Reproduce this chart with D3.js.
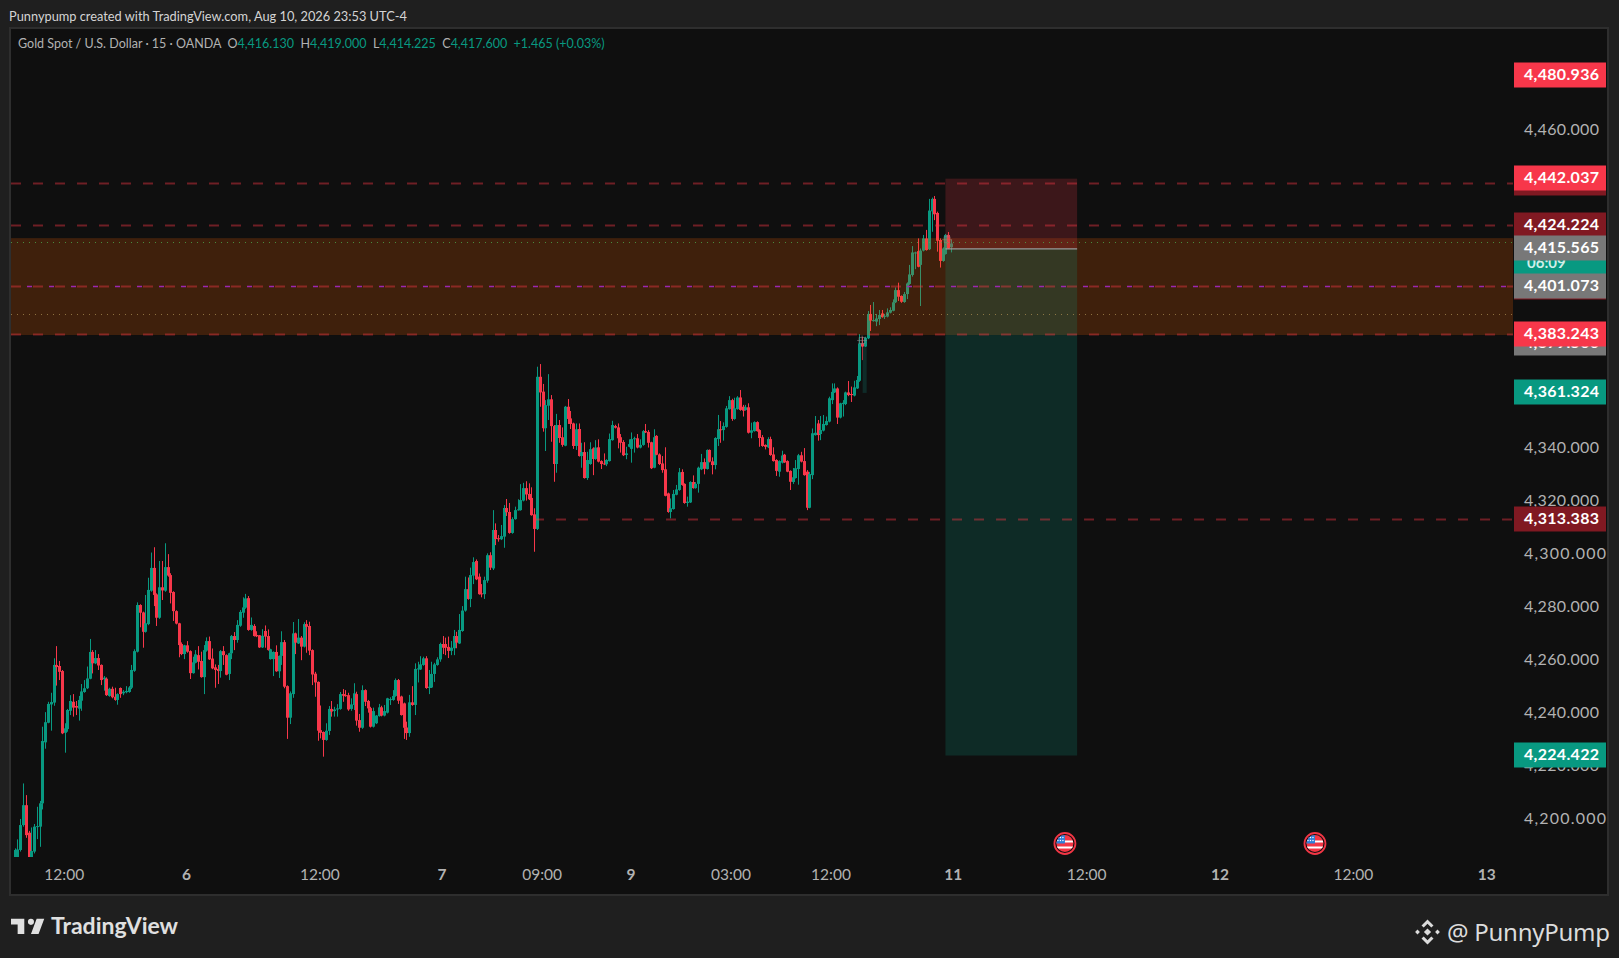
<!DOCTYPE html>
<html>
<head>
<meta charset="utf-8">
<title>XAUUSD 15</title>
<script src="https://cdn.jsdelivr.net/npm/d3@7/dist/d3.min.js"></script>
<style>
html,body{margin:0;padding:0;background:#1f1f1f;overflow:hidden}
svg{display:block}
text{font-family:Lato,"Noto Sans",sans-serif}
</style>
</head>
<body>
<svg id="chart" width="1619" height="958"></svg>
<script>
const opens = [
4185.2,4184.4,4188.8,4198.2,4205.7,4195.3,4184.4,4188.2,4197.5,4197.6,
4206.4,4229.4,4236.8,4243.7,4244.4,4258.6,4258.2,4256.3,4233.0,4234.4,
4241.3,4244.7,4243.1,4242.1,4245.1,4248.4,4249.8,4253.4,4263.5,4259.2,
4261.2,4258.6,4253.2,4253.4,4246.9,4249.6,4246.6,4245.4,4249.9,4247.9,
4248.3,4248.4,4250.0,4256.4,4263.6,4281.2,4278.4,4271.1,4274.0,4286.6,
4295.2,4285.2,4276.4,4287.9,4286.6,4295.5,4292.5,4286.1,4278.9,4274.3,
4266.5,4262.7,4266.0,4263.8,4255.5,4259.4,4262.3,4260.1,4254.0,4264.0,
4267.6,4261.0,4257.7,4257.1,4256.3,4263.8,4262.3,4255.2,4263.0,4269.5,
4268.0,4273.4,4278.3,4280.2,4283.8,4271.8,4273.3,4269.9,4269.8,4265.2,
4271.4,4269.5,4260.8,4260.8,4263.5,4256.2,4262.0,4267.2,4250.6,4238.7,
4247.6,4270.5,4266.7,4268.9,4265.5,4274.0,4273.3,4264.2,4255.3,4252.2,
4234.0,4233.3,4230.3,4233.7,4242.0,4241.2,4241.8,4242.0,4247.6,4247.2,
4247.2,4242.0,4243.5,4247.6,4237.8,4234.9,4249.1,4245.0,4242.3,4235.3,
4236.6,4239.3,4242.6,4239.5,4240.6,4245.4,4245.4,4246.9,4252.9,4246.7,
4244.1,4235.0,4232.9,4244.5,4243.5,4257.1,4256.9,4258.6,4261.1,4249.9,
4250.1,4255.2,4258.6,4260.7,4266.5,4266.5,4265.4,4263.9,4264.9,4269.5,
4266.7,4271.4,4279.1,4287.2,4283.5,4292.3,4297.8,4291.9,4285.6,4285.3,
4290.4,4300.0,4295.0,4309.5,4306.4,4306.0,4307.0,4317.8,4316.3,4308.4,
4313.6,4317.0,4317.0,4320.6,4325.3,4323.1,4321.6,4315.4,
4309.9,4367.3,4361.7,4347.9,4356.4,4358.8,4348.7,4334.4,4349.1,4344.5,
4341.3,4356.0,4351.6,4349.7,4341.2,4347.6,4337.4,4338.9,4329.1,4334.4,
4340.3,4336.3,4340.7,4335.5,4334.6,4334.3,4335.5,4343.4,4348.7,4348.2,
4344.5,4342.7,4337.8,4340.9,4340.1,4343.8,4344.1,4340.6,4341.6,4346.8,
4346.5,4342.6,4333.0,4345.0,4338.0,4334.6,4332.4,4323.3,4316.3,4317.4,
4322.8,4324.6,4331.4,4326.9,4319.7,4319.9,4327.6,4325.3,4326.9,4332.4,
4335.1,4332.5,4339.7,4335.4,4334.0,4343.8,4347.5,4347.2,4348.4,4355.1,
4358.5,4351.4,4355.1,4359.5,4356.0,4354.8,4355.8,4346.2,4346.8,4350.2,
4347.2,4344.5,4341.6,4340.7,4343.8,4338.0,4335.9,4331.5,4334.9,4337.9,
4335.5,4331.8,4327.6,4329.1,4332.5,4337.7,4335.5,
4331.5,4317.9,4330.2,4345.3,4349.7,4345.7,4347.0,4349.1,4350.4,4358.5,
4361.4,4362.9,4351.9,4357.0,4357.0,4361.4,4360.8,4360.2,4362.9,4365.8,
4379.9,4378.7,4381.8,4391.0,4388.3,4388.1,4389.1,4391.2,4390.0,4390.0,
4391.5,4392.2,4395.4,4400.0,4397.8,4395.5,4398.5,4402.3,4405.7,4413.9,
4414.7,4409.5,4414.9,4419.5,4415.4,4429.7,4434.4,4429.1,4418.9,4411.0,
4413.6,4420.8,4416.13
];
const highs = [
4189.4,4192.8,4200.5,4213.9,4209.5,4196.0,4197.3,4198.6,4205.1,4207.3,
4235.3,4240.8,4244.7,4248.1,4261.1,4265.7,4260.1,4256.7,4236.6,4242.0,
4247.2,4247.6,4245.0,4246.9,4251.4,4252.9,4258.0,4268.4,4264.2,4264.2,
4262.7,4258.8,4254.4,4253.9,4250.0,4250.4,4250.0,4247.9,4250.1,4249.1,
4250.6,4250.6,4258.6,4264.5,4282.2,4281.5,4278.7,4285.0,4291.5,4301.0,
4303.0,4285.6,4297.8,4297.8,4304.5,4300.4,4293.2,4286.4,4279.2,4274.5,
4267.1,4266.2,4267.6,4264.1,4261.7,4264.2,4265.7,4263.6,4266.1,4269.0,
4269.3,4264.8,4258.8,4258.6,4264.2,4265.7,4262.6,4263.2,4269.9,4271.0,
4275.5,4279.3,4284.1,4285.4,4284.6,4276.5,4274.0,4271.3,4269.9,4272.1,
4273.5,4272.0,4264.7,4263.7,4266.0,4262.2,4271.3,4268.0,4250.9,4248.6,
4274.8,4270.8,4275.9,4269.5,4274.7,4275.5,4274.9,4264.5,4256.0,4252.4,
4243.3,4233.5,4236.6,4243.1,4245.0,4242.8,4243.8,4248.4,4249.5,4249.1,
4248.1,4246.0,4251.7,4248.5,4240.1,4250.9,4249.4,4245.4,4242.8,4242.5,
4239.7,4243.9,4243.2,4243.5,4246.2,4246.4,4249.1,4253.5,4253.3,4247.0,
4244.4,4237.2,4247.3,4250.6,4259.2,4259.8,4261.9,4261.7,4261.9,4256.7,
4259.8,4259.4,4261.5,4267.0,4269.5,4268.9,4269.3,4267.6,4271.8,4271.1,
4277.8,4280.8,4291.9,4291.6,4295.3,4299.2,4298.4,4293.1,4289.1,4291.9,
4300.7,4301.1,4317.0,4312.0,4307.6,4311.4,4318.9,4321.2,4319.7,4314.3,
4318.3,4321.1,4326.8,4327.3,4327.9,4327.1,4325.6,4317.7,
4371.1,4372.1,4364.6,4358.5,4368.3,4360.4,4349.1,4353.3,4351.0,4348.2,
4356.3,4358.9,4354.4,4350.0,4349.7,4349.7,4342.4,4342.6,4339.0,4342.6,
4340.7,4343.4,4343.7,4335.8,4338.4,4336.2,4345.9,4350.7,4349.2,4349.7,
4345.7,4343.4,4340.9,4343.7,4346.3,4344.7,4345.7,4343.7,4347.2,4349.5,
4347.2,4342.8,4347.5,4345.3,4338.4,4337.4,4340.7,4323.6,4321.4,4324.6,
4326.5,4332.9,4332.4,4327.1,4322.1,4327.9,4330.1,4327.6,4333.4,4338.2,
4336.5,4339.9,4339.9,4336.9,4344.5,4352.9,4350.6,4350.1,4356.3,4360.0,
4359.0,4359.4,4360.0,4362.3,4356.7,4356.7,4357.3,4350.0,4350.5,4350.5,
4347.5,4345.3,4341.8,4344.5,4344.7,4340.7,4336.2,4335.8,4339.4,4338.2,
4335.8,4332.0,4332.9,4335.9,4338.2,4339.0,4340.4,
4332.1,4331.4,4347.8,4352.5,4351.0,4352.5,4352.9,4352.3,4359.8,4364.8,
4364.8,4363.3,4357.5,4358.5,4361.7,4365.7,4363.6,4365.8,4367.6,4383.4,
4382.4,4382.4,4392.1,4394.4,4395.5,4391.0,4392.5,4392.5,4391.0,4393.1,
4393.5,4396.5,4401.0,4402.8,4398.0,4399.3,4402.9,4409.5,4416.6,4414.5,
4419.5,4415.7,4420.8,4422.7,4434.4,4434.9,4435.5,4429.6,4419.5,4416.1,
4421.2,4421.9,4419.0
];
const lows = [
4182.0,4182.0,4188.2,4197.6,4193.4,4182.0,4183.8,4187.5,4192.9,4190.0,
4204.1,4227.0,4236.6,4233.8,4243.2,4250.8,4252.9,4232.5,4225.5,4233.4,
4239.7,4239.1,4239.7,4237.6,4241.3,4248.1,4249.5,4253.2,4255.4,4258.9,
4256.7,4251.0,4248.9,4246.9,4246.6,4246.0,4245.1,4243.6,4246.2,4247.2,
4247.9,4248.1,4249.5,4256.0,4263.3,4272.8,4265.1,4270.8,4273.6,4286.2,
4280.8,4273.3,4276.0,4283.1,4286.2,4291.9,4281.8,4275.2,4273.9,4261.5,
4262.3,4260.8,4263.2,4253.3,4255.3,4259.2,4256.9,4253.8,4247.6,4263.6,
4260.5,4257.0,4250.0,4251.4,4253.8,4258.6,4254.7,4252.9,4260.8,4264.2,
4267.0,4273.0,4276.4,4279.8,4271.5,4271.5,4269.3,4269.1,4265.0,4265.0,
4265.1,4264.0,4260.6,4254.4,4256.0,4253.7,4258.6,4249.8,4230.7,4236.3,
4246.2,4262.7,4266.5,4260.4,4265.2,4263.2,4262.3,4251.0,4246.6,4230.0,
4230.9,4224.0,4230.0,4232.2,4239.1,4239.1,4239.1,4241.7,4244.7,4246.6,
4241.3,4241.3,4241.6,4235.7,4233.4,4234.5,4243.1,4240.6,4235.0,4235.0,
4236.3,4239.1,4239.2,4239.2,4240.3,4243.5,4245.1,4246.6,4243.9,4239.5,
4230.7,4230.3,4231.5,4243.2,4239.7,4252.0,4256.7,4258.3,4249.6,4247.6,
4249.9,4252.2,4258.3,4259.8,4262.7,4262.3,4261.2,4262.3,4262.3,4264.9,
4266.5,4271.1,4278.7,4283.2,4280.4,4289.1,4290.6,4285.1,4284.1,4283.5,
4289.6,4294.4,4294.4,4303.8,4305.1,4305.7,4302.8,4314.8,4308.1,4308.1,
4313.4,4316.8,4316.8,4320.3,4320.6,4320.8,4314.9,4301.3,
4309.5,4356.0,4346.6,4339.3,4351.0,4342.8,4327.7,4331.1,4342.4,4340.9,
4341.1,4349.5,4347.6,4340.1,4339.7,4337.2,4333.0,4328.9,4328.4,4334.1,
4330.2,4336.0,4335.0,4332.5,4334.0,4333.6,4335.3,4343.2,4347.8,4340.3,
4338.7,4337.4,4336.2,4340.7,4334.9,4338.7,4340.3,4340.3,4341.3,4346.1,
4340.6,4332.5,4332.8,4337.7,4334.0,4331.1,4322.2,4316.0,4313.9,4317.2,
4322.6,4324.3,4326.2,4319.4,4318.3,4319.7,4325.1,4325.1,4323.6,4332.1,
4330.5,4332.3,4335.0,4330.5,4332.4,4341.2,4342.4,4343.2,4348.1,4354.9,
4350.7,4351.1,4354.9,4354.5,4352.3,4354.5,4345.9,4344.1,4346.6,4346.6,
4340.9,4340.9,4339.9,4340.4,4337.5,4335.3,4329.9,4329.6,4334.6,4334.8,
4331.3,4324.6,4326.9,4328.9,4326.6,4335.0,4330.0,
4317.0,4317.7,4328.7,4345.1,4343.2,4343.4,4346.7,4348.9,4350.1,4357.0,
4361.2,4349.5,4351.6,4352.3,4356.6,4360.0,4357.8,4359.9,4362.7,4365.4,
4373.6,4378.4,4381.5,4384.6,4388.1,4386.4,4386.8,4389.6,4389.1,4389.7,
4391.2,4392.0,4395.1,4395.9,4395.2,4395.2,4396.6,4402.0,4405.1,4407.9,
4408.6,4394.0,4414.6,4414.9,4415.1,4422.0,4426.4,4414.5,4408.5,4410.7,
4413.4,4415.5,4414.225
];
const closes = [
4188.8,4189.0,4198.2,4205.7,4194.4,4183.8,4188.4,4197.6,4197.8,4206.4,
4229.9,4237.0,4243.9,4244.6,4258.6,4257.8,4256.0,4232.8,4234.7,4241.6,
4245.0,4242.5,4242.5,4245.4,4248.6,4249.8,4253.5,4263.5,4259.2,4261.2,
4258.4,4252.9,4253.8,4247.2,4249.6,4246.4,4245.4,4247.6,4247.6,4248.5,
4248.8,4250.1,4256.7,4263.8,4281.2,4278.3,4271.1,4274.3,4286.9,4295.2,
4285.0,4276.4,4287.9,4286.7,4295.5,4292.3,4285.8,4278.9,4274.2,4266.1,
4262.7,4266.0,4263.6,4255.5,4259.6,4262.6,4259.8,4254.0,4264.2,4267.6,
4260.7,4257.3,4256.7,4256.3,4263.8,4262.3,4254.9,4263.0,4269.5,4268.0,
4273.7,4278.6,4280.3,4283.7,4271.8,4273.7,4269.5,4269.4,4265.2,4269.6,
4269.3,4264.2,4264.5,4263.5,4256.2,4262.0,4267.2,4250.4,4238.7,4247.9,
4270.5,4267.0,4268.9,4265.5,4274.0,4273.0,4264.0,4255.0,4252.0,4233.8,
4233.0,4230.3,4233.8,4242.0,4241.0,4241.8,4242.2,4247.6,4247.0,4246.9,
4241.8,4243.7,4247.9,4237.6,4234.9,4249.1,4244.7,4242.2,4235.3,4241.2,
4239.5,4242.6,4239.5,4241.2,4246.0,4245.7,4246.9,4252.9,4245.1,4239.7,
4234.9,4232.9,4244.5,4243.5,4257.1,4257.3,4258.8,4261.1,4249.9,4250.4,
4255.2,4258.8,4260.7,4266.5,4265.1,4265.1,4263.9,4265.1,4269.5,4267.0,
4271.8,4279.1,4287.2,4283.5,4292.5,4297.4,4290.9,4285.3,4285.3,4290.6,
4300.0,4295.3,4309.5,4306.1,4306.0,4307.2,4317.8,4316.2,4308.4,4313.6,
4317.0,4317.3,4320.8,4325.3,4322.9,4321.1,4315.1,4309.9,
4367.3,4361.4,4347.9,4356.6,4358.8,4348.7,4334.4,4349.1,4344.2,4341.6,
4356.0,4351.4,4349.5,4341.2,4347.5,4337.4,4338.9,4329.1,4335.9,4340.0,
4336.3,4340.6,4335.3,4334.4,4334.3,4335.9,4343.8,4349.1,4348.1,4344.1,
4342.4,4337.7,4338.4,4341.9,4343.8,4344.1,4340.6,4341.6,4346.8,4346.3,
4342.4,4332.8,4344.5,4337.9,4334.4,4332.1,4322.4,4316.3,4317.7,4323.1,
4324.8,4331.3,4326.5,4319.7,4320.2,4327.6,4325.3,4326.9,4333.0,4335.1,
4332.6,4339.7,4335.3,4334.0,4344.2,4347.5,4347.2,4348.7,4355.4,4358.5,
4351.4,4355.4,4359.5,4354.8,4354.5,4355.8,4346.2,4347.1,4350.2,4346.8,
4344.2,4341.2,4340.9,4343.8,4337.8,4335.5,4331.8,4335.5,4337.6,4335.0,
4331.5,4327.7,4329.4,4332.8,4337.7,4335.3,4330.2,
4317.9,4330.6,4346.0,4346.2,4345.3,4347.2,4349.5,4350.6,4359.2,4361.6,
4362.9,4351.9,4357.3,4357.5,4361.4,4360.4,4360.4,4363.3,4366.1,4379.9,
4378.7,4382.0,4391.0,4388.5,4388.7,4389.3,4390.6,4389.8,4390.3,4391.6,
4392.5,4395.4,4400.0,4397.5,4395.6,4398.5,4402.5,4405.9,4414.2,4414.2,
4408.8,4414.9,4419.5,4415.1,4430.0,4434.4,4428.6,4418.6,4411.0,4415.7,
4420.8,4415.7,4417.6
];

const priceTicks = [4200,4220,4240,4260,4280,4300,4320,4340,4360,4380,4400,4420,4440,4460];
const wideTicks = [4200,4300];
const timeIndex = [18,62,110,154,190,222,258,294,338,386,434,482,530];
const timeLabels = ["12:00","6","12:00","7","09:00","9","03:00","12:00","11","12:00","12","12:00","13"];
const boldTimes = ["6","7","9","11","12","13"];

const dashLevels = [4440.0,4424.224,4401.073,4383.243];
const lowLevel = 4313.383;
const lowLevelStart = 188;
const zoneTop = 4419.6, zoneBottom = 4383.05;
const zoneGreenDots = 4417.75, zoneTanDots = 4390.6;
const entry = 4415.565, stopPrice = 4442.037, targetPrice = 4224.422;
const toolStart = 335, toolEnd = 382.4;
const flagIndex = [378,468];

// drawn in this order, later ones sit on top of earlier ones
const tagPrices = [4440.0,4424.224,4379.5,4400.7,4401.073,4415.565,4442.037,4383.243,4480.936,4361.324,4313.383,4224.422];
const tagColors = ["#801922","#801922","#787878","#801922","#787878","#787878","#f7374a","#f7374a","#f7374a","#089981","#801922","#089981"];
const lastClose = 4417.6, countdown = "06:09";

const green = "#089981", red = "#f7374a", dash = "rgba(242,54,69,0.42)";

const svg = d3.select("#chart");
const defs = svg.append("defs");
defs.append("clipPath").attr("id","paneClip").append("rect")
  .attr("x",11).attr("y",29).attr("width",1502).attr("height",828);

svg.append("rect").attr("x",10).attr("y",28).attr("width",1598).attr("height",867)
  .attr("fill","#0f0f0f").attr("stroke","#2e2e2e").attr("stroke-width",2);

const x = d3.scaleLinear().domain([0,337]).range([14.7,951]);
const y = d3.scaleLinear().domain([4180,4500]).range([873.3,25]);

svg.append("text").attr("x",9).attr("y",20.5).attr("fill","#d4d4d4").attr("font-size",12.8)
  .text("Punnypump created with TradingView.com, Aug 10, 2026 23:53 UTC-4");

// legend row
const legend = svg.append("text").attr("x",18).attr("y",48).attr("font-size",12.5);
const legendParts = [
  ["Gold Spot / U.S. Dollar · 15 · OANDA  ","#b2b2b2"],["O","#b2b2b2"],["4,416.130  ",green],
  ["H","#b2b2b2"],["4,419.000  ",green],["L","#b2b2b2"],["4,414.225  ",green],
  ["C","#b2b2b2"],["4,417.600  ",green],["+1.465 (+0.03%)",green]];
legend.attr("xml:space","preserve").style("white-space","pre").selectAll("tspan").data(legendParts).join("tspan")
  .attr("fill",d=>d[1]).text(d=>d[0]);

// axes
const yAxis = d3.axisRight(y).tickValues(priceTicks).tickSize(0).tickFormat(d3.format(",.3f"));
const yG = svg.append("g").attr("transform","translate(1524,-2)").call(yAxis);
yG.select(".domain").remove();
yG.selectAll("text").attr("x",0).attr("fill","#b2b2b2").attr("font-size",16)
  .style("font-family","Lato,sans-serif")
  .attr("textLength",d=>wideTicks.includes(d)?82:75);

const xAxis = d3.axisBottom(x).tickValues(timeIndex).tickSize(0).tickFormat((d,i)=>timeLabels[i]);
const xG = svg.append("g").attr("transform","translate(-1,866)").call(xAxis);
xG.select(".domain").remove();
xG.selectAll("text").attr("fill","#b2b2b2").attr("font-size",15.5)
  .style("font-family","Lato,sans-serif")
  .attr("font-weight",(d,i)=>boldTimes.includes(timeLabels[i])?700:400);

// candles
const pane = svg.append("g").attr("clip-path","url(#paneClip)");
const candles = pane.selectAll("g.candle").data(d3.range(closes.length)).join("g").attr("class","candle")
  .attr("fill",i=>closes[i]>=opens[i]?green:red);
candles.append("rect")
  .attr("x",i=>Math.round(x(i)))
  .attr("width",1)
  .attr("y",i=>y(highs[i]))
  .attr("height",i=>y(lows[i])-y(highs[i]));
candles.append("rect")
  .attr("x",i=>Math.round(x(i))-1)
  .attr("width",3)
  .attr("y",i=>y(Math.max(opens[i],closes[i])))
  .attr("height",i=>Math.max(1,Math.abs(y(opens[i])-y(closes[i]))));

// ghost left on the chart by an arrow
pane.append("rect").attr("x",x(305.2)).attr("width",4).attr("y",y(4378.5)).attr("height",y(4361.2)-y(4378.5)).attr("fill","#0f2b28");
pane.selectAll("path.ghost").data([[305,4381],[335.6,4419]]).join("path").attr("class","ghost")
  .attr("transform",d=>`translate(${x(d[0])},${y(d[1])})`)
  .attr("d","M-5 0H5M0 -5V5M-3 -3H3V3H-3Z").attr("fill","none").attr("stroke","#8a8a8a").attr("stroke-opacity",0.55);

// zone and position tool
pane.append("rect").attr("x",11).attr("width",1502).attr("y",y(zoneTop)).attr("height",y(zoneBottom)-y(zoneTop))
  .attr("fill","rgba(255,100,0,0.2)");
pane.append("rect").attr("x",x(toolStart)).attr("width",x(toolEnd)-x(toolStart))
  .attr("y",y(stopPrice)).attr("height",y(entry)-y(stopPrice)).attr("fill","rgba(242,54,69,0.2)");
pane.append("rect").attr("x",x(toolStart)).attr("width",x(toolEnd)-x(toolStart))
  .attr("y",y(entry)).attr("height",y(targetPrice)-y(entry)).attr("fill","rgba(8,153,129,0.2)");
pane.append("line").attr("x1",x(toolStart)).attr("x2",x(toolEnd)).attr("y1",y(entry)).attr("y2",y(entry))
  .attr("stroke","#9a9a9a").attr("stroke-width",1.2);

// level lines
const levelLine = (price,x0,color,w,dashArr,offset)=>pane.append("line")
  .attr("x1",x0).attr("x2",1513).attr("y1",Math.round(y(price))-0.5).attr("y2",Math.round(y(price))-0.5)
  .attr("stroke",color).attr("stroke-width",w).attr("stroke-dasharray",dashArr).attr("stroke-dashoffset",offset||0);
dashLevels.forEach(p=>levelLine(p,11,dash,2,"10 12"));
levelLine(lowLevel,x(lowLevelStart)-3,dash,2,"10 12");
levelLine(4401.073,11,"#9c27b0",1.6,"5 17",-16);
levelLine(zoneGreenDots,11,"rgba(76,175,80,0.75)",1,"1 5");
levelLine(zoneTanDots,11,"rgba(170,140,80,0.75)",1,"1 5");

// flags
flagIndex.forEach((f,k)=>{
  const g = svg.append("g").attr("transform",`translate(${x(f)},843.5)`);
  defs.append("clipPath").attr("id","flag"+k).append("circle").attr("r",8.5);
  g.append("circle").attr("r",10.5).attr("fill","#0f0f0f").attr("stroke","#f23645").attr("stroke-width",1.8);
  const inner = g.append("g").attr("clip-path",`url(#flag${k})`);
  inner.append("rect").attr("x",-9).attr("y",-9).attr("width",18).attr("height",18).attr("fill","#f23645");
  inner.append("rect").attr("x",-9).attr("y",-3).attr("width",18).attr("height",2).attr("fill","#fff");
  inner.append("rect").attr("x",-9).attr("y",3).attr("width",18).attr("height",2).attr("fill","#fff");
  inner.append("rect").attr("x",-9).attr("y",-9).attr("width",9).attr("height",9).attr("fill","#2e7fd9");
  inner.selectAll("circle").data(d3.range(6)).join("circle").attr("r",0.7).attr("fill","#fff")
    .attr("cx",i=>-7+(i%3)*2.5).attr("cy",i=>-6+Math.floor(i/3)*3);
});

// price tags, the last price with its countdown goes under all the others
const lastG = svg.append("g").attr("transform",`translate(1514,${Math.round(y(lastClose))-1})`);
lastG.append("rect").attr("y",-12.5).attr("width",92).attr("height",45).attr("fill",green);
lastG.append("text").attr("x",13).attr("y",26).attr("fill","#cfeee8").attr("font-size",15).attr("font-weight",700).text(countdown);

tagPrices.forEach((price,i)=>{
  const g = svg.append("g").attr("transform",`translate(1514,${Math.round(y(price))-1})`);
  g.append("rect").attr("y",-12.5).attr("width",92).attr("height",25).attr("fill",tagColors[i]);
  g.append("text").attr("x",85).attr("y",5).attr("text-anchor","end").attr("fill","#fff")
    .attr("font-size",16).attr("font-weight",700).attr("textLength",75).text(d3.format(",.3f")(price));
});

// footer
svg.append("path").attr("transform","translate(11,913) scale(0.95)").attr("fill","#e0e0e0")
  .attr("d","M14 6H0v6h7v10h7V6zm15 16h-8l6-16h8l-6 16zm-8-9.5a3.2 3.2 0 1 0 0-6.4 3.2 3.2 0 0 0 0 6.4z");
svg.append("text").attr("x",51).attr("y",934).attr("fill","#e0e0e0").attr("font-size",23).attr("font-weight",700).text("TradingView");
svg.append("path").attr("transform","translate(1427.5,932)").attr("fill","#dcdcdc")
  .attr("d","M0 -3.6L3.6 0L0 3.6L-3.6 0ZM-10 -2.4L-7.6 0L-10 2.4L-12.4 0ZM10 -2.4L12.4 0L10 2.4L7.6 0ZM0 -12.5L6 -6.5L3.8 -4.6L0 -8.2L-3.8 -4.6L-6 -6.5ZM0 12.5L-6 6.5L-3.8 4.6L0 8.2L3.8 4.6L6 6.5Z");
svg.append("text").attr("x",1447).attr("y",941).attr("fill","#dcdcdc").attr("font-size",24)
  .attr("textLength",163).style("font-family","'Noto Sans',sans-serif").text("@ PunnyPump");
</script>
</body>
</html>
